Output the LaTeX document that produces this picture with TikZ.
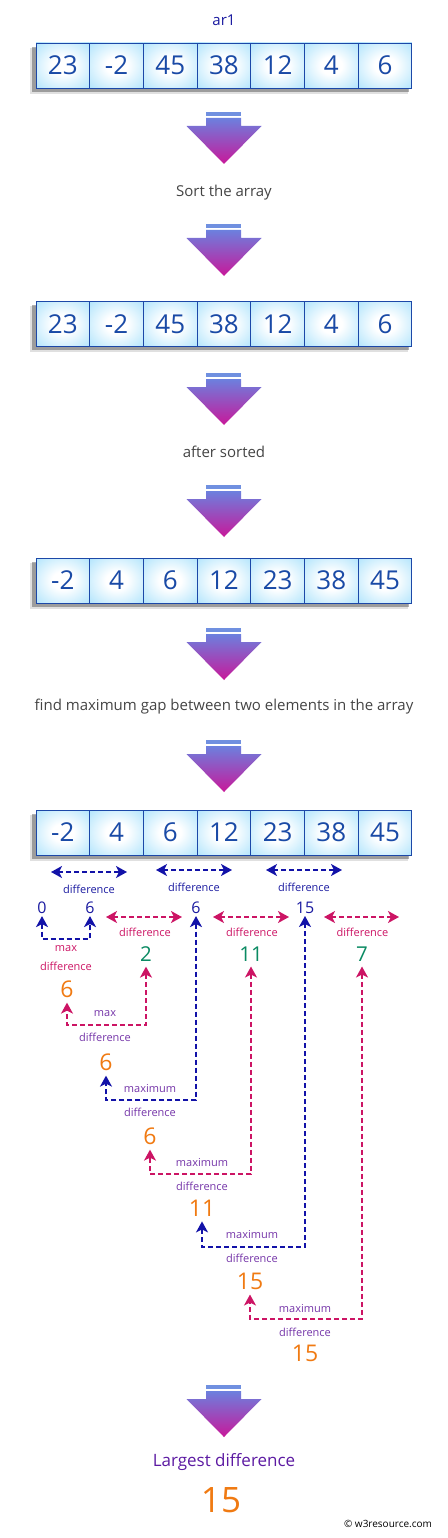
\documentclass[tikz,border=0pt]{standalone}
\usepackage{fontspec}
\setmainfont{Open Sans}
\usetikzlibrary{arrows.meta,positioning}

\definecolor{cellline}{HTML}{1C48A8}
\definecolor{cellsky}{HTML}{7CD2FA}
\definecolor{celltext}{HTML}{1A4AA6}
\definecolor{navy}{HTML}{1A1AA0}
\definecolor{lineblue}{HTML}{1212A8}
\definecolor{linepink}{HTML}{CC1464}
\definecolor{txtpurple}{HTML}{7434A8}
\definecolor{txtviolet}{HTML}{5C1AA2}
\definecolor{txtorange}{HTML}{F07A12}
\definecolor{txtgreen}{HTML}{0A8A62}
\definecolor{bartop}{HTML}{7090E0}
\definecolor{arrtop}{HTML}{6C80DE}
\definecolor{arrbot}{HTML}{C8189A}
\definecolor{notegray}{HTML}{444444}

\pgfdeclareradialshading{cellglow}{\pgfpointorigin}{color(0bp)=(white);
  color(10bp)=(white); color(36bp)=(cellsky!60!white); color(50bp)=(cellsky)}

\newcommand{\fs}[1]{\fontsize{#1}{#1}\selectfont}

\begin{document}
\begin{tikzpicture}[x=1pt,y=-1pt,
  cell/.style={draw=cellline, line width=0.9pt, minimum width=53.7pt,
    minimum height=45pt, inner sep=0pt, shade, shading=cellglow,
    text=celltext, font=\fs{26}},
  note/.style={text=notegray, font=\fs{15}},
  small/.style={font=\fs{11}, inner sep=0pt},
  bnum/.style={text=navy, font=\fs{16}, inner sep=2pt},
  gnum/.style={text=txtgreen, font=\fs{20.5}, inner sep=5pt},
  onum/.style={text=txtorange, font=\fs{23}, inner sep=5pt},
  dashline/.style={dash pattern=on 5pt off 3pt, line width=1.8pt,
    >={Stealth[length=11pt,width=12pt,inset=3pt]}, <->},
  blueline/.style={dashline, draw=lineblue},
  pinkline/.style={dashline, draw=linepink},
]
\useasboundingbox (0,0) rectangle (447,1538);

% array shadows
\foreach \top in {43,301,558,810} {
  \fill[black, opacity=0.12] (30,\top+5) rectangle (408,\top+51);
  \fill[black, opacity=0.3] (32,\top+4) rectangle (409,\top+49);
}

% the four arrays
\foreach \row/\yy/\vals in {u/65.5/{23,-2,45,38,12,4,6},
    c/324/{23,-2,45,38,12,4,6}, s/580.5/{-2,4,6,12,23,38,45},
    m/832.5/{-2,4,6,12,23,38,45}} {
  \foreach \v [count=\i] in \vals
    \node[cell] (\row-\i) at ({36+53.7*(\i-0.5)},\yy) {\v};
}

% big arrows
\foreach \t in {112,224,373,485,628,740,1385} {
  \fill[bartop] (206,\t) rectangle (241,\t+4);
  \shade[top color=arrtop, bottom color=arrbot]
    (206,\t+6) -- (241,\t+6) -- (241,\t+14) -- (261.5,\t+14) -- (224,\t+52)
    -- (186.5,\t+14) -- (206,\t+14) -- cycle;
}

\node[text=navy, font=\fs{15}] (title) at (224,20) {ar1};
\node[note] (sort) at (224,193) {Sort the array};
\node[note] (after) at (224,452) {after sorted};
\node[note] (find) at (224,707) {find maximum gap between two elements in the array};

% differences of neighbours
\foreach \i/\xa/\xb/\yy in {1/51/127/872,2/156/232/870,3/266/342/870} {
  \coordinate (bl\i) at (\xa,\yy);
  \coordinate (br\i) at (\xb,\yy);
  \draw[blueline] (bl\i) -- (br\i);
  \node[small, text=navy] (bd\i) at ({(\xa+\xb)/2},\yy+17) {difference};
}
\foreach \i/\xa/\xb in {1/106/182,2/213/289,3/324/399} {
  \coordinate (pl\i) at (\xa,917);
  \coordinate (pr\i) at (\xb,917);
  \draw[pinkline] (pl\i) -- (pr\i);
  \node[small, text=linepink] (pd\i) at ({(\xa+\xb)/2+1},932) {difference};
}

\node[bnum] (b0) at (42,908) {0};
\node[bnum] (b6a) at (90,908) {6};
\node[bnum] (b6b) at (196,908) {6};
\node[bnum] (b15) at (305,908) {15};

\node[gnum] (gap2) at (146,954) {2};
\node[gnum] (gap11) at (251,954) {11};
\node[gnum] (gap7) at (362,954) {7};

\node[onum] (o1) at (67,989) {6};
\node[onum] (o2) at (106,1062) {6};
\node[onum] (o3) at (150,1136) {6};
\node[onum] (o4) at (202,1208) {11};
\node[onum] (o5) at (250,1281) {15};
\node[onum] (o6) at (305,1353) {15};

% running maximum
\foreach \src/\dst/\fl/\kind in {b0/b6a/939/blueline, gap2/o1/1025/pinkline,
    b6b/o2/1100/blueline, gap11/o3/1174/pinkline, b15/o4/1247/blueline,
    gap7/o5/1319/pinkline}
  \draw[\kind] (\src.south) -- (\src.south |- 0,\fl) -| (\dst.south);

\node[small, text=linepink] (lm1) at (66,949) {max};
\node[small, text=linepink] (ld1) at (66,966) {difference};
\foreach \i/\xx/\yy/\word in {2/105/1014/max, 3/150/1089/maximum,
    4/202/1163/maximum, 5/252/1235/maximum, 6/305/1309/maximum} {
  \node[small, text=txtpurple] (lm\i) at (\xx,\yy) {\word};
  \node[small, text=txtpurple] (ld\i) at (\xx,\yy+23) {difference};
}

\node[text=txtviolet, font=\fs{17}] (largest) at (224,1462) {Largest difference};
\node[text=txtorange, font=\fs{35}] (answer) at (221,1500) {15};
\node[font=\fs{10}] (credit) at (388,1524) {© w3resource.com};

\end{tikzpicture}
\end{document}
